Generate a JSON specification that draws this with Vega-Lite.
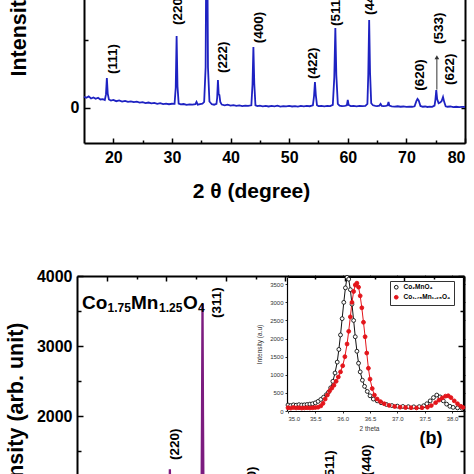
{
  "$schema": "https://vega.github.io/schema/vega-lite/v6.json",
  "width": 474,
  "height": 474,
  "autosize": "none",
  "padding": 0,
  "background": "white",
  "config": {
    "view": {"stroke": null},
    "font": "Liberation Sans",
    "axis": {"grid": false, "domainColor": "black", "tickColor": "black", "labelColor": "black", "titleColor": "black", "labelFont": "Liberation Sans", "titleFont": "Liberation Sans", "labelOverlap": false},
    "text": {"font": "Liberation Sans", "fontWeight": "bold", "color": "black"}
  },
  "datasets": {
    "xrd_top": [
      {"t":15.0,"i":165},{"t":15.4,"i":150},{"t":15.8,"i":170},{"t":16.2,"i":140},{"t":16.6,"i":155},{"t":17.0,"i":135},{"t":17.4,"i":150},{"t":17.8,"i":125},{"t":18.2,"i":130},{"t":18.55,"i":118},{"t":18.75,"i":200},{"t":18.9,"i":441},{"t":19.05,"i":210},{"t":19.25,"i":125},{"t":19.6,"i":110},{"t":20.0,"i":118},{"t":20.5,"i":100},{"t":21.0,"i":112},{"t":21.5,"i":95},{"t":22.0,"i":105},{"t":22.5,"i":90},{"t":23.0,"i":98},{"t":23.5,"i":85},{"t":24.0,"i":92},{"t":24.5,"i":78},{"t":25.0,"i":86},{"t":25.5,"i":72},{"t":26.0,"i":80},{"t":26.5,"i":68},{"t":27.0,"i":75},{"t":27.5,"i":62},{"t":28.0,"i":70},{"t":28.5,"i":58},{"t":29.0,"i":64},{"t":29.5,"i":55},{"t":30.0,"i":62},{"t":30.45,"i":60},{"t":30.65,"i":300},{"t":30.8,"i":1058},{"t":30.95,"i":320},{"t":31.15,"i":65},{"t":31.5,"i":52},{"t":32.0,"i":58},{"t":32.5,"i":45},{"t":33.0,"i":52},{"t":33.5,"i":48},{"t":34.0,"i":55},{"t":34.2,"i":90},{"t":34.4,"i":50},{"t":34.8,"i":58},{"t":35.2,"i":62},{"t":35.5,"i":90},{"t":35.75,"i":600},{"t":35.95,"i":3700},{"t":36.15,"i":600},{"t":36.4,"i":95},{"t":36.8,"i":55},{"t":37.2,"i":48},{"t":37.6,"i":60},{"t":37.72,"i":150},{"t":37.85,"i":412},{"t":37.98,"i":200},{"t":38.1,"i":191},{"t":38.25,"i":90},{"t":38.5,"i":50},{"t":39.0,"i":40},{"t":39.5,"i":48},{"t":40.0,"i":35},{"t":40.5,"i":42},{"t":41.0,"i":30},{"t":41.5,"i":38},{"t":42.0,"i":28},{"t":42.5,"i":35},{"t":43.0,"i":30},{"t":43.55,"i":40},{"t":43.75,"i":350},{"t":43.9,"i":897},{"t":44.05,"i":360},{"t":44.25,"i":40},{"t":44.6,"i":28},{"t":45.0,"i":35},{"t":45.5,"i":25},{"t":46.0,"i":32},{"t":46.5,"i":22},{"t":47.0,"i":30},{"t":47.5,"i":25},{"t":48.0,"i":33},{"t":48.5,"i":20},{"t":49.0,"i":28},{"t":49.5,"i":24},{"t":50.0,"i":30},{"t":50.5,"i":22},{"t":51.0,"i":28},{"t":51.5,"i":20},{"t":52.0,"i":30},{"t":52.5,"i":24},{"t":53.0,"i":30},{"t":53.5,"i":26},{"t":54.05,"i":40},{"t":54.25,"i":180},{"t":54.4,"i":382},{"t":54.55,"i":190},{"t":54.75,"i":40},{"t":55.0,"i":28},{"t":55.5,"i":32},{"t":56.0,"i":25},{"t":56.5,"i":30},{"t":57.0,"i":28},{"t":57.45,"i":45},{"t":57.7,"i":450},{"t":57.88,"i":1176},{"t":58.05,"i":480},{"t":58.3,"i":60},{"t":58.6,"i":35},{"t":59.0,"i":28},{"t":59.5,"i":32},{"t":59.85,"i":40},{"t":60.0,"i":118},{"t":60.15,"i":45},{"t":60.5,"i":28},{"t":61.0,"i":32},{"t":61.5,"i":25},{"t":62.0,"i":30},{"t":62.5,"i":26},{"t":63.0,"i":32},{"t":63.35,"i":60},{"t":63.5,"i":500},{"t":63.65,"i":1294},{"t":63.8,"i":520},{"t":64.0,"i":70},{"t":64.3,"i":40},{"t":64.7,"i":32},{"t":65.0,"i":28},{"t":65.4,"i":35},{"t":65.6,"i":59},{"t":65.8,"i":30},{"t":66.1,"i":26},{"t":66.5,"i":30},{"t":66.8,"i":40},{"t":66.95,"i":88},{"t":67.1,"i":35},{"t":67.5,"i":25},{"t":68.0,"i":20},{"t":68.5,"i":25},{"t":69.0,"i":18},{"t":69.5,"i":22},{"t":70.0,"i":15},{"t":70.5,"i":20},{"t":71.0,"i":18},{"t":71.4,"i":25},{"t":71.7,"i":100},{"t":71.9,"i":132},{"t":72.1,"i":110},{"t":72.4,"i":30},{"t":72.8,"i":18},{"t":73.2,"i":22},{"t":73.6,"i":15},{"t":74.0,"i":20},{"t":74.4,"i":16},{"t":74.8,"i":35},{"t":74.95,"i":120},{"t":75.1,"i":265},{"t":75.25,"i":130},{"t":75.5,"i":70},{"t":75.75,"i":80},{"t":76.0,"i":100},{"t":76.25,"i":162},{"t":76.45,"i":90},{"t":76.7,"i":25},{"t":77.0,"i":18},{"t":77.5,"i":22},{"t":78.0,"i":14},{"t":78.5,"i":18},{"t":79.0,"i":12},{"t":79.5,"i":16},{"t":80.0,"i":15}
    ],
    "hkl_top": [
      {"t":19.95,"i":500,"lab":"(111)"},{"t":31.05,"i":1220,"lab":"(220)"},{"t":38.7,"i":515,"lab":"(222)"},{"t":44.9,"i":951,"lab":"(400)"},{"t":54.1,"i":426,"lab":"(422)"},{"t":57.95,"i":1206,"lab":"(511)"},{"t":63.8,"i":1368,"lab":"(440)"},{"t":72.4,"i":254,"lab":"(620)"},{"t":75.56,"i":941,"lab":"(533)"},{"t":77.4,"i":338,"lab":"(622)"}
    ],
    "arrow_533": [{"t":75.2,"i":270,"i2":720}],
    "arrow_head": [{"t":75.2,"i":745}],
    "xrd_bottom": [
      {"t":15,"i":180},{"t":18,"i":140},{"t":18.7,"i":140},{"t":18.9,"i":420},{"t":19.1,"i":140},{"t":25,"i":100},{"t":30.4,"i":90},{"t":30.5,"i":350},{"t":30.6,"i":1240},{"t":30.7,"i":350},{"t":30.8,"i":90},{"t":35.8,"i":100},{"t":35.9,"i":500},{"t":36.0,"i":2000},{"t":36.08,"i":3600},{"t":36.16,"i":2000},{"t":36.26,"i":500},{"t":36.36,"i":100},{"t":37.7,"i":90},{"t":37.85,"i":450},{"t":38.0,"i":90},{"t":43.8,"i":70},{"t":43.95,"i":800},{"t":44.1,"i":70},{"t":54.3,"i":60},{"t":54.45,"i":350},{"t":54.6,"i":60},{"t":57.8,"i":60},{"t":57.95,"i":980},{"t":58.1,"i":60},{"t":63.6,"i":50},{"t":63.75,"i":1050},{"t":63.9,"i":50},{"t":72,"i":40},{"t":75.2,"i":250},{"t":76.4,"i":150},{"t":80,"i":40}
    ],
    "hkl_bottom": [
      {"t":38.5,"i":3400,"lab":"(311)"},{"t":31.46,"i":1371,"lab":"(220)"},{"t":44.34,"i":829,"lab":"(400)"},{"t":57.5,"i":1071,"lab":"(511)"},{"t":63.7,"i":1143,"lab":"(440)"}
    ],
    "formula_main": [{"t":15.84,"i":3529,"txt":"Co"},{"t":24.07,"i":3529,"txt":"Mn"},{"t":32.8,"i":3529,"txt":"O"}],
    "formula_sub": [{"t":20.12,"i":3479,"txt":"1.75"},{"t":28.77,"i":3479,"txt":"1.25"},{"t":35.32,"i":3479,"txt":"4"}],
    "panel_tag": [{"t":74.46,"i":1671,"txt":"(b)"}],
    "inset": [
      {"s":"Co₂MnO₄","t":35.00,"i":165},{"s":"Co₂MnO₄","t":35.05,"i":150},{"s":"Co₂MnO₄","t":35.10,"i":170},{"s":"Co₂MnO₄","t":35.15,"i":160},{"s":"Co₂MnO₄","t":35.20,"i":175},{"s":"Co₂MnO₄","t":35.25,"i":165},{"s":"Co₂MnO₄","t":35.30,"i":170},{"s":"Co₂MnO₄","t":35.35,"i":180},{"s":"Co₂MnO₄","t":35.40,"i":190},{"s":"Co₂MnO₄","t":35.45,"i":200},{"s":"Co₂MnO₄","t":35.50,"i":225},{"s":"Co₂MnO₄","t":35.55,"i":265},{"s":"Co₂MnO₄","t":35.60,"i":320},{"s":"Co₂MnO₄","t":35.65,"i":380},{"s":"Co₂MnO₄","t":35.70,"i":450},{"s":"Co₂MnO₄","t":35.74,"i":520},{"s":"Co₂MnO₄","t":35.78,"i":640},{"s":"Co₂MnO₄","t":35.82,"i":820},{"s":"Co₂MnO₄","t":35.86,"i":1050},{"s":"Co₂MnO₄","t":35.90,"i":1350},{"s":"Co₂MnO₄","t":35.93,"i":1700},{"s":"Co₂MnO₄","t":35.96,"i":2100},{"s":"Co₂MnO₄","t":35.99,"i":2550},{"s":"Co₂MnO₄","t":36.02,"i":3000},{"s":"Co₂MnO₄","t":36.05,"i":3400},{"s":"Co₂MnO₄","t":36.08,"i":3690},{"s":"Co₂MnO₄","t":36.11,"i":3640},{"s":"Co₂MnO₄","t":36.14,"i":3350},{"s":"Co₂MnO₄","t":36.17,"i":2950},{"s":"Co₂MnO₄","t":36.20,"i":2500},{"s":"Co₂MnO₄","t":36.23,"i":2050},{"s":"Co₂MnO₄","t":36.26,"i":1650},{"s":"Co₂MnO₄","t":36.29,"i":1320},{"s":"Co₂MnO₄","t":36.32,"i":1080},{"s":"Co₂MnO₄","t":36.36,"i":850},{"s":"Co₂MnO₄","t":36.40,"i":680},{"s":"Co₂MnO₄","t":36.45,"i":540},{"s":"Co₂MnO₄","t":36.50,"i":420},{"s":"Co₂MnO₄","t":36.56,"i":330},{"s":"Co₂MnO₄","t":36.63,"i":280},{"s":"Co₂MnO₄","t":36.70,"i":230},{"s":"Co₂MnO₄","t":36.80,"i":180},{"s":"Co₂MnO₄","t":36.90,"i":150},{"s":"Co₂MnO₄","t":37.00,"i":135},{"s":"Co₂MnO₄","t":37.10,"i":125},{"s":"Co₂MnO₄","t":37.20,"i":118},{"s":"Co₂MnO₄","t":37.30,"i":115},{"s":"Co₂MnO₄","t":37.40,"i":120},{"s":"Co₂MnO₄","t":37.48,"i":145},{"s":"Co₂MnO₄","t":37.54,"i":200},{"s":"Co₂MnO₄","t":37.60,"i":280},{"s":"Co₂MnO₄","t":37.66,"i":370},{"s":"Co₂MnO₄","t":37.72,"i":440},{"s":"Co₂MnO₄","t":37.78,"i":390},{"s":"Co₂MnO₄","t":37.84,"i":280},{"s":"Co₂MnO₄","t":37.90,"i":190},{"s":"Co₂MnO₄","t":37.96,"i":130},{"s":"Co₂MnO₄","t":38.02,"i":100},{"s":"Co₂MnO₄","t":38.10,"i":85},{"s":"Co₂MnO₄","t":38.18,"i":75},
      {"s":"Co₁.₇₅Mn₁.₂₅O₄","t":35.00,"i":90},{"s":"Co₁.₇₅Mn₁.₂₅O₄","t":35.05,"i":80},{"s":"Co₁.₇₅Mn₁.₂₅O₄","t":35.10,"i":95},{"s":"Co₁.₇₅Mn₁.₂₅O₄","t":35.15,"i":85},{"s":"Co₁.₇₅Mn₁.₂₅O₄","t":35.20,"i":90},{"s":"Co₁.₇₅Mn₁.₂₅O₄","t":35.25,"i":80},{"s":"Co₁.₇₅Mn₁.₂₅O₄","t":35.30,"i":85},{"s":"Co₁.₇₅Mn₁.₂₅O₄","t":35.35,"i":90},{"s":"Co₁.₇₅Mn₁.₂₅O₄","t":35.40,"i":85},{"s":"Co₁.₇₅Mn₁.₂₅O₄","t":35.45,"i":90},{"s":"Co₁.₇₅Mn₁.₂₅O₄","t":35.50,"i":95},{"s":"Co₁.₇₅Mn₁.₂₅O₄","t":35.55,"i":105},{"s":"Co₁.₇₅Mn₁.₂₅O₄","t":35.60,"i":140},{"s":"Co₁.₇₅Mn₁.₂₅O₄","t":35.64,"i":210},{"s":"Co₁.₇₅Mn₁.₂₅O₄","t":35.68,"i":330},{"s":"Co₁.₇₅Mn₁.₂₅O₄","t":35.72,"i":440},{"s":"Co₁.₇₅Mn₁.₂₅O₄","t":35.76,"i":550},{"s":"Co₁.₇₅Mn₁.₂₅O₄","t":35.80,"i":630},{"s":"Co₁.₇₅Mn₁.₂₅O₄","t":35.84,"i":710},{"s":"Co₁.₇₅Mn₁.₂₅O₄","t":35.88,"i":820},{"s":"Co₁.₇₅Mn₁.₂₅O₄","t":35.92,"i":940},{"s":"Co₁.₇₅Mn₁.₂₅O₄","t":35.96,"i":1080},{"s":"Co₁.₇₅Mn₁.₂₅O₄","t":36.00,"i":1250},{"s":"Co₁.₇₅Mn₁.₂₅O₄","t":36.04,"i":1500},{"s":"Co₁.₇₅Mn₁.₂₅O₄","t":36.08,"i":1850},{"s":"Co₁.₇₅Mn₁.₂₅O₄","t":36.11,"i":2200},{"s":"Co₁.₇₅Mn₁.₂₅O₄","t":36.14,"i":2600},{"s":"Co₁.₇₅Mn₁.₂₅O₄","t":36.17,"i":3000},{"s":"Co₁.₇₅Mn₁.₂₅O₄","t":36.20,"i":3300},{"s":"Co₁.₇₅Mn₁.₂₅O₄","t":36.23,"i":3480},{"s":"Co₁.₇₅Mn₁.₂₅O₄","t":36.26,"i":3530},{"s":"Co₁.₇₅Mn₁.₂₅O₄","t":36.29,"i":3420},{"s":"Co₁.₇₅Mn₁.₂₅O₄","t":36.32,"i":3180},{"s":"Co₁.₇₅Mn₁.₂₅O₄","t":36.35,"i":2850},{"s":"Co₁.₇₅Mn₁.₂₅O₄","t":36.38,"i":2450},{"s":"Co₁.₇₅Mn₁.₂₅O₄","t":36.41,"i":2050},{"s":"Co₁.₇₅Mn₁.₂₅O₄","t":36.44,"i":1600},{"s":"Co₁.₇₅Mn₁.₂₅O₄","t":36.47,"i":1180},{"s":"Co₁.₇₅Mn₁.₂₅O₄","t":36.50,"i":880},{"s":"Co₁.₇₅Mn₁.₂₅O₄","t":36.54,"i":620},{"s":"Co₁.₇₅Mn₁.₂₅O₄","t":36.58,"i":440},{"s":"Co₁.₇₅Mn₁.₂₅O₄","t":36.63,"i":330},{"s":"Co₁.₇₅Mn₁.₂₅O₄","t":36.69,"i":260},{"s":"Co₁.₇₅Mn₁.₂₅O₄","t":36.76,"i":200},{"s":"Co₁.₇₅Mn₁.₂₅O₄","t":36.85,"i":155},{"s":"Co₁.₇₅Mn₁.₂₅O₄","t":36.95,"i":125},{"s":"Co₁.₇₅Mn₁.₂₅O₄","t":37.05,"i":105},{"s":"Co₁.₇₅Mn₁.₂₅O₄","t":37.15,"i":95},{"s":"Co₁.₇₅Mn₁.₂₅O₄","t":37.25,"i":90},{"s":"Co₁.₇₅Mn₁.₂₅O₄","t":37.35,"i":85},{"s":"Co₁.₇₅Mn₁.₂₅O₄","t":37.45,"i":90},{"s":"Co₁.₇₅Mn₁.₂₅O₄","t":37.55,"i":105},{"s":"Co₁.₇₅Mn₁.₂₅O₄","t":37.62,"i":150},{"s":"Co₁.₇₅Mn₁.₂₅O₄","t":37.70,"i":230},{"s":"Co₁.₇₅Mn₁.₂₅O₄","t":37.76,"i":300},{"s":"Co₁.₇₅Mn₁.₂₅O₄","t":37.82,"i":360},{"s":"Co₁.₇₅Mn₁.₂₅O₄","t":37.88,"i":410},{"s":"Co₁.₇₅Mn₁.₂₅O₄","t":37.93,"i":420},{"s":"Co₁.₇₅Mn₁.₂₅O₄","t":37.98,"i":370},{"s":"Co₁.₇₅Mn₁.₂₅O₄","t":38.04,"i":280},{"s":"Co₁.₇₅Mn₁.₂₅O₄","t":38.10,"i":200},{"s":"Co₁.₇₅Mn₁.₂₅O₄","t":38.16,"i":130},{"s":"Co₁.₇₅Mn₁.₂₅O₄","t":38.20,"i":100}
    ]
  },
  "layer": [
    {
      "layer": [
        {
          "data": {"name": "xrd_top"},
          "mark": {"type": "line", "color": "#1e22c2", "strokeWidth": 1.8},
          "encoding": {
            "x": {"field": "t", "type": "quantitative",
              "scale": {"domain": [15, 80], "range": [84, 465], "nice": false, "zero": false},
              "axis": {"orient": "bottom", "offset": -331, "values": [20,25,30,35,40,45,50,55,60,65,70,75,80],
                "labelExpr": "datum.value % 10 === 0 ? datum.label : ''",
                "tickSize": {"condition": {"test": "datum.value % 10 === 0", "value": -5}, "value": -3},
                "tickWidth": 1.5, "domainWidth": 2, "labelFontSize": 16, "labelFontWeight": "bold", "labelPadding": 11,
                "title": "2 θ (degree)", "titleFontSize": 21, "titleFontWeight": "bold", "titleX": 251, "titleY": 54,
                "titleAlign": "center", "titleBaseline": "alphabetic"}},
            "y": {"field": "i", "type": "quantitative",
              "scale": {"domain": [-515, 4000], "range": [143, -164], "nice": false, "zero": false},
              "axis": {"orient": "left", "offset": -84, "values": [0, 1000],
                "labelExpr": "datum.value === 0 ? '0' : ''",
                "tickSize": {"condition": {"test": "datum.value === 0", "value": -6}, "value": -4},
                "tickWidth": 1.5, "domainWidth": 2, "labelFontSize": 16, "labelFontWeight": "bold", "labelPadding": 11,
                "title": "Intensity (arb. unit)", "titleFontSize": 21.5, "titleFontWeight": "bold", "titleAngle": 270,
                "titleAlign": "left", "titleBaseline": "alphabetic", "titleX": -59, "titleY": 76}}
          }
        },
        {
          "data": {"name": "hkl_top"},
          "mark": {"type": "text", "angle": 270, "align": "left", "baseline": "middle", "fontSize": 13.5},
          "encoding": {
            "x": {"field": "t", "type": "quantitative", "axis": null},
            "y": {"field": "i", "type": "quantitative",
              "axis": {"orient": "right", "offset": -9, "values": [0, 1000], "labels": false, "tickSize": -4,
                "tickWidth": 1.5, "domainWidth": 2, "title": null}},
            "text": {"field": "lab"}
          }
        },
        {
          "data": {"name": "arrow_533"},
          "mark": {"type": "rule", "color": "#333", "strokeWidth": 1},
          "encoding": {
            "x": {"field": "t", "type": "quantitative", "axis": null},
            "y": {"field": "i", "type": "quantitative", "axis": null},
            "y2": {"field": "i2"}
          }
        },
        {
          "data": {"name": "arrow_head"},
          "mark": {"type": "point", "shape": "triangle-up", "filled": true, "color": "#333", "size": 22, "opacity": 1},
          "encoding": {
            "x": {"field": "t", "type": "quantitative", "axis": null},
            "y": {"field": "i", "type": "quantitative", "axis": null}
          }
        }
      ],
      "resolve": {"axis": {"x": "independent", "y": "independent"}}
    },
    {
      "layer": [
        {
          "data": {"name": "xrd_bottom"},
          "mark": {"type": "line", "color": "#7c1c7f", "strokeWidth": 2.3},
          "encoding": {
            "x": {"field": "t", "type": "quantitative",
              "scale": {"domain": [15, 80], "range": [77, 464], "nice": false, "zero": false},
              "axis": {"orient": "top", "offset": -276, "values": [20,25,30,35,40,45,50,55,60,65,70,75,80], "labels": false,
                "tickSize": {"condition": {"test": "datum.value % 10 === 0", "value": -5}, "value": -3},
                "tickWidth": 1.5, "domainWidth": 2, "title": null}},
            "y": {"field": "i", "type": "quantitative",
              "scale": {"domain": [0, 4000], "range": [556, 276], "nice": false, "zero": false},
              "axis": {"orient": "left", "offset": -77, "values": [1500, 2000, 2500, 3000, 3500, 4000], "format": "d",
                "labelExpr": "datum.value % 1000 === 0 ? datum.label : ''",
                "tickSize": {"condition": {"test": "datum.value % 1000 === 0", "value": -6}, "value": -4},
                "tickWidth": 1.5, "domainWidth": 2, "labelFontSize": 16, "labelFontWeight": "bold", "labelPadding": 11,
                "title": "Intensity (arb. unit)", "titleFontSize": 21.5, "titleFontWeight": "bold", "titleAngle": 270,
                "titleAlign": "right", "titleBaseline": "alphabetic", "titleX": -55, "titleY": 322}}
          }
        },
        {
          "data": {"name": "hkl_bottom"},
          "mark": {"type": "text", "angle": 270, "align": "left", "baseline": "middle", "fontSize": 13.5},
          "encoding": {
            "x": {"field": "t", "type": "quantitative", "axis": null},
            "y": {"field": "i", "type": "quantitative",
              "axis": {"orient": "right", "offset": -10, "values": [1500, 2000, 2500, 3000, 3500, 4000], "labels": false,
                "tickSize": {"condition": {"test": "datum.value % 1000 === 0", "value": -6}, "value": -4},
                "tickWidth": 1.5, "domainWidth": 2, "title": null}},
            "text": {"field": "lab"}
          }
        },
        {
          "data": {"name": "formula_main"},
          "mark": {"type": "text", "align": "left", "baseline": "alphabetic", "fontSize": 19},
          "encoding": {
            "x": {"field": "t", "type": "quantitative", "axis": null},
            "y": {"field": "i", "type": "quantitative", "axis": null},
            "text": {"field": "txt"}
          }
        },
        {
          "data": {"name": "formula_sub"},
          "mark": {"type": "text", "align": "left", "baseline": "alphabetic", "fontSize": 12},
          "encoding": {
            "x": {"field": "t", "type": "quantitative", "axis": null},
            "y": {"field": "i", "type": "quantitative", "axis": null},
            "text": {"field": "txt"}
          }
        },
        {
          "data": {"name": "panel_tag"},
          "mark": {"type": "text", "align": "center", "baseline": "middle", "fontSize": 18},
          "encoding": {
            "x": {"field": "t", "type": "quantitative", "axis": null},
            "y": {"field": "i", "type": "quantitative", "axis": null},
            "text": {"field": "txt"}
          }
        }
      ],
      "resolve": {"axis": {"x": "independent", "y": "independent"}}
    },
    {
      "layer": [
        {
          "data": {"name": "inset"},
          "mark": {"type": "line", "strokeWidth": 1},
          "encoding": {
            "x": {"field": "t", "type": "quantitative",
              "scale": {"domain": [35, 38.2], "range": [288, 463], "nice": false, "zero": false},
              "axis": {"orient": "bottom", "offset": -63, "values": [35, 35.5, 36, 36.5, 37, 37.5, 38], "format": ".1f",
                "tickSize": 2, "tickWidth": 0.8, "domainWidth": 1.2, "labelFontSize": 6, "labelPadding": 2, "labelColor": "#333",
                "title": "2 theta", "titleFontSize": 6.5, "titleFontWeight": "normal", "titleColor": "#333",
                "titleX": 369, "titleY": 17, "titleAlign": "center", "titleBaseline": "middle"}},
            "y": {"field": "i", "type": "quantitative",
              "scale": {"domain": [0, 3700], "range": [411, 277], "nice": false, "zero": false},
              "axis": {"orient": "left", "offset": -287, "values": [0, 500, 1000, 1500, 2000, 2500, 3000, 3500], "format": "d",
                "tickSize": 2, "tickWidth": 0.8, "domainWidth": 1.2, "labelFontSize": 6, "labelPadding": 2, "labelColor": "#333",
                "title": "Intensity (a.u)", "titleFontSize": 6.5, "titleFontWeight": "normal", "titleColor": "#333",
                "titleAngle": 270, "titleX": -28, "titleY": 344, "titleAlign": "center", "titleBaseline": "middle"}},
            "stroke": {"field": "s", "type": "nominal",
              "scale": {"domain": ["Co₂MnO₄", "Co₁.₇₅Mn₁.₂₅O₄"], "range": ["#111111", "#e3151b"]},
              "legend": {"orient": "none", "legendX": 390, "legendY": 281, "title": null, "strokeColor": "#333",
                "fillColor": "white", "padding": 3, "labelFontSize": 6.5, "labelFontWeight": "bold", "labelFont": "Liberation Sans",
                "symbolSize": 14, "symbolStrokeWidth": 1, "rowPadding": 1, "labelOffset": 4}}
          }
        },
        {
          "data": {"name": "inset"},
          "mark": {"type": "point", "size": 15, "strokeWidth": 0.9, "opacity": 1},
          "encoding": {
            "x": {"field": "t", "type": "quantitative",
              "axis": {"orient": "top", "offset": -277, "values": [35, 35.5, 36, 36.5, 37, 37.5, 38], "labels": false,
                "tickSize": 2, "tickWidth": 0.8, "domainWidth": 1.2, "title": null}},
            "y": {"field": "i", "type": "quantitative",
              "axis": {"orient": "right", "offset": -11, "values": [0, 500, 1000, 1500, 2000, 2500, 3000, 3500], "labels": false,
                "tickSize": 2, "tickWidth": 0.8, "domainWidth": 1.2, "title": null}},
            "stroke": {"field": "s", "type": "nominal"},
            "fill": {"field": "s", "type": "nominal",
              "scale": {"domain": ["Co₂MnO₄", "Co₁.₇₅Mn₁.₂₅O₄"], "range": ["white", "#e3151b"]}}
          }
        }
      ],
      "resolve": {"axis": {"x": "independent", "y": "independent"}}
    }
  ],
  "resolve": {"scale": {"x": "independent", "y": "independent"}}
}
